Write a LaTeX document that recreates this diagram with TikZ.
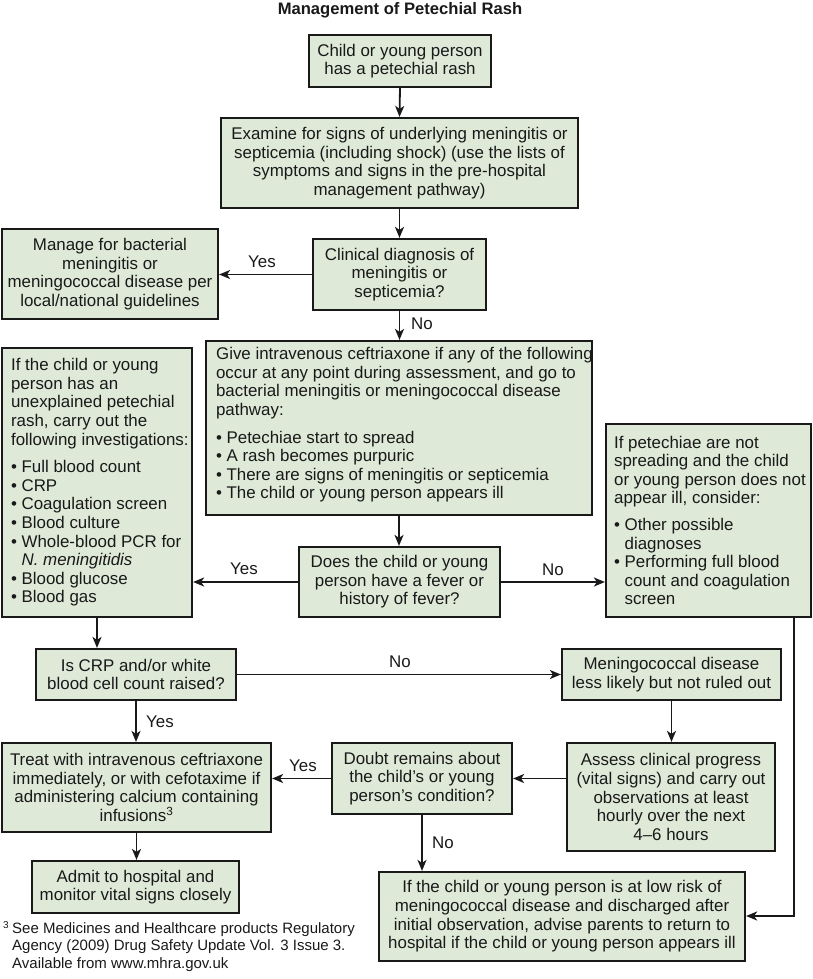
\documentclass[tikz,border=0pt]{standalone}
\usepackage{fontspec}
\setmainfont{Liberation Sans}
\usetikzlibrary{arrows.meta,calc}
\definecolor{boxfill}{RGB}{222,233,216}
\definecolor{ink}{RGB}{25,25,25}
\newcommand\bul{\makebox[10.5pt][l]{•}}
\newcommand\ind{\hspace*{10.5pt}}
\begin{document}
\begin{tikzpicture}[x=1pt,y=-1pt,
  every node/.style={font=\fontsize{16.9}{18.6}\selectfont, text=ink},
  box/.style={draw=ink, line width=2.2pt, fill=boxfill, inner sep=0pt, align=center},
  txt/.style={inner sep=0pt, align=left},
  lbl/.style={inner sep=0pt},
  arr/.style={draw=ink, line width=1.8pt, -{Stealth[length=11pt,width=9pt,inset=3pt]}},
  plain/.style={draw=ink, line width=1.8pt}
]
\useasboundingbox (0,0) rectangle (813,979);

% title
\node[font=\bfseries\fontsize{16.6}{19}\selectfont, inner sep=0pt, anchor=base] (title) at (400,15) {Management of Petechial Rash};

% boxes
\node[box, minimum width=182pt, minimum height=52pt] (b1) at (400,61) {Child or young person\\has a petechial rash};
\node[box, minimum width=357pt, minimum height=90pt] (b2) at (399.5,163) {Examine for signs of underlying meningitis or\\septicemia (including shock) (use the lists of\\symptoms and signs in the pre-hospital\\management pathway)};
\node[box, minimum width=173pt, minimum height=71pt] (b3) at (399.5,274.5) {Clinical diagnosis of\\meningitis or\\septicemia?};
\node[box, minimum width=216pt, minimum height=90pt] (b4) at (110,274) {Manage for bacterial\\meningitis or\\meningococcal disease per\\local/national guidelines};

\node[box, minimum width=386pt, minimum height=174pt] (b5) at (399,428) {};
\node[txt, anchor=west] (b5t) at ($(b5.west)+(11,-3)$) {Give intravenous ceftriaxone if any of the following\\occur at any point during assessment, and go to\\bacterial meningitis or meningococcal disease\\pathway:\\[9pt]\bul Petechiae start to spread\\\bul A rash becomes purpuric\\\bul There are signs of meningitis or septicemia\\\bul The child or young person appears ill};

\node[box, minimum width=201pt, minimum height=70pt] (b6) at (399.5,582) {Does the child or young\\person have a fever or\\history of fever?};

\node[box, minimum width=190pt, minimum height=269pt] (b7) at (97,482.5) {};
\node[txt, anchor=west] (b7t) at ($(b7.west)+(10,0)$) {If the child or young\\person has an\\unexplained petechial\\rash, carry out the\\following investigations:\\[9pt]\bul Full blood count\\\bul CRP\\\bul Coagulation screen\\\bul Blood culture\\\bul Whole-blood PCR for\\\ind\textit{N. meningitidis}\\\bul Blood glucose\\\bul Blood gas};

\node[box, minimum width=205pt, minimum height=193pt] (b8) at (708.5,520.5) {};
\node[txt, anchor=west] (b8t) at ($(b8.west)+(9,0)$) {If petechiae are not\\spreading and the child\\or young person does not\\appear ill, consider:\\[8pt]\bul Other possible\\\ind diagnoses\\\bul Performing full blood\\\ind count and coagulation\\\ind screen};

\node[box, minimum width=200pt, minimum height=51pt] (b9) at (136,674.5) {Is CRP and/or white\\blood cell count raised?};
\node[box, minimum width=219pt, minimum height=51pt] (b10) at (671.5,674.5) {Meningococcal disease\\less likely but not ruled out};
\node[box, minimum width=208pt, minimum height=108pt] (b11) at (671,797) {Assess clinical progress\\(vital signs) and carry out\\observations at least\\hourly over the next\\4–6 hours};
\node[box, minimum width=180pt, minimum height=71pt] (b12) at (422,778.5) {Doubt remains about\\the child’s or young\\person’s condition?};
\node[box, minimum width=269pt, minimum height=89pt] (b13) at (136.5,787.5) {Treat with intravenous ceftriaxone\\immediately, or with cefotaxime if\\administering calcium containing\\infusions\textsuperscript{3}};
\node[box, minimum width=207pt, minimum height=52pt] (b14) at (135.5,887) {Admit to hospital and\\monitor vital signs closely};
\node[box, minimum width=366pt, minimum height=89pt] (b15) at (562,916.5) {If the child or young person is at low risk of\\meningococcal disease and discharged after\\initial observation, advise parents to return to\\hospital if the child or young person appears ill};

% footnote
\node[txt, anchor=north west, font=\fontsize{15}{17.5}\selectfont] (fn) at (12,922) {See Medicines and Healthcare products Regulatory\\Agency (2009) Drug Safety Update Vol. 3 Issue 3.\\Available from www.mhra.gov.uk};
\node[txt, anchor=north west, font=\fontsize{10}{12}\selectfont] (fnmark) at (3,921) {3};

% connectors
\draw[arr] (b1.south) -- (b2.north);
\draw[arr] (b2.south) -- (b3.north);
\draw[arr] (b3.west) -- (b3.west -| b4.east);
\draw[arr] (b3.south) -- (b3.south |- b5.north);
\draw[arr] (b5.south) -- (b5.south |- b6.north);
\draw[arr] (b6.west) -- (b6.west -| b7.east);
\draw[arr] (b6.east) -- (b6.east -| b8.west);
\draw[arr] (b7.south) -- (b7.south |- b9.north);
\draw[arr] (b9.east) -- (b10.west);
\draw[arr] (b9.south) -- (b9.south |- b13.north);
\draw[arr] (b10.south) -- (b10.south |- b11.north);
\draw[arr] (b11.west |- b12.east) -- (b12.east);
\draw[arr] (b12.west) -- (b12.west -| b13.east);
\draw[arr] (b12.south) -- (b12.south |- b15.north);
\draw[arr] (b13.south) -- (b13.south |- b14.north);
\coordinate (c1) at (794,916);
\draw[arr] (b8.south -| c1) -- (c1) -- (b15.east |- c1);

% labels
\node[lbl] (yes1) at (262,262) {Yes};
\node[lbl] (no1) at (422,324) {No};
\node[lbl] (yes2) at (244,569) {Yes};
\node[lbl] (no2) at (553,570) {No};
\node[lbl] (no3) at (400,662) {No};
\node[lbl] (yes3) at (160,722) {Yes};
\node[lbl] (yes4) at (303,766) {Yes};
\node[lbl] (no4) at (443,843) {No};
\end{tikzpicture}
\end{document}
